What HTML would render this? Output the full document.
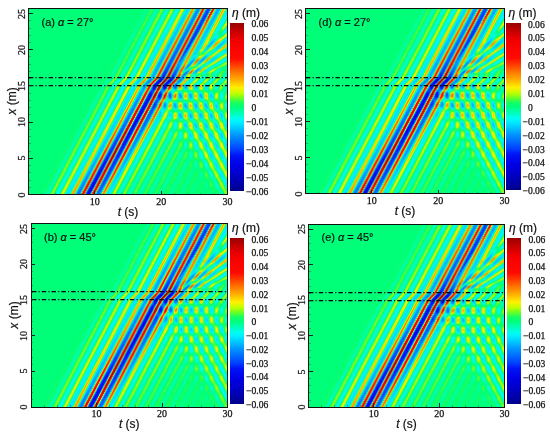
<!DOCTYPE html>
<html><head><meta charset="utf-8"><style>
html,body{margin:0;padding:0;background:#fff;}
body{width:550px;height:435px;position:relative;overflow:hidden;}
.a{position:absolute;}
.box{position:absolute;box-sizing:border-box;border:1px solid #111;background:#00ff78 linear-gradient(124deg,#00ff78 0%,#00ff78 47%,#c0ff00 49%,#00f0ff 51%,#ffd000 53%,#0060ff 54.5%,#ff2000 56%,#0000c8 57.5%,#ff2000 59%,#0040ff 60.5%,#ff9000 62%,#00e8ff 64%,#d0ff00 66%,#00ffb0 68%,#00ff78 71%,#00ff78 100%);}
.box canvas{position:absolute;left:0;top:0;width:100%;height:100%;}
.fr{position:absolute;box-sizing:border-box;border:1px solid #151515;}
.tk{position:absolute;background:#222;}
.tm{position:absolute;background:#333;opacity:0.35;}
.ser{font-family:"Liberation Serif","Times New Roman",serif;color:#111;-webkit-text-stroke:0.25px #111;white-space:nowrap;line-height:1;}
.san{font-family:"Liberation Sans",Arial,sans-serif;color:#111;-webkit-text-stroke:0.2px #111;white-space:nowrap;line-height:1;}
.yl{position:absolute;font-size:10px;transform:translate(-50%,-50%) rotate(-90deg);}
.xl{position:absolute;font-size:10px;transform:translateX(-50%);}
.cbl{position:absolute;font-size:9.6px;}
.cbl .m{position:absolute;right:100%;}
.dd{position:absolute;height:0;border-top:1px dashed #000;}
.cb{position:absolute;}
</style></head><body>

<div class="box" style="left:28px;top:8px;width:200px;height:187px"><canvas id="ca" width="200" height="187"></canvas></div>
<svg class="a" style="left:29px;top:84px" width="198" height="3"><line x1="0" y1="1.5" x2="198" y2="1.5" stroke="#000" stroke-width="1.25" stroke-dasharray="4.4,2.2,1.1,2.1"/></svg>
<svg class="a" style="left:29px;top:76px" width="198" height="3"><line x1="0" y1="1.5" x2="198" y2="1.5" stroke="#000" stroke-width="1.25" stroke-dasharray="4.4,2.2,1.1,2.1"/></svg>
<div class="tm" style="left:41.27px;top:192.5px;width:1px;height:2px"></div>
<div class="tm" style="left:54.53px;top:192.5px;width:1px;height:2px"></div>
<div class="tm" style="left:67.8px;top:192.5px;width:1px;height:2px"></div>
<div class="tm" style="left:81.07px;top:192.5px;width:1px;height:2px"></div>
<div class="tk" style="left:94.33px;top:190.5px;width:1px;height:4px"></div>
<div class="tm" style="left:107.6px;top:192.5px;width:1px;height:2px"></div>
<div class="tm" style="left:120.87px;top:192.5px;width:1px;height:2px"></div>
<div class="tm" style="left:134.13px;top:192.5px;width:1px;height:2px"></div>
<div class="tm" style="left:147.4px;top:192.5px;width:1px;height:2px"></div>
<div class="tk" style="left:160.67px;top:190.5px;width:1px;height:4px"></div>
<div class="tm" style="left:173.93px;top:192.5px;width:1px;height:2px"></div>
<div class="tm" style="left:187.2px;top:192.5px;width:1px;height:2px"></div>
<div class="tm" style="left:200.47px;top:192.5px;width:1px;height:2px"></div>
<div class="tm" style="left:213.73px;top:192.5px;width:1px;height:2px"></div>
<div class="tm" style="left:28.5px;top:186.76px;width:2px;height:1px"></div>
<div class="tm" style="left:28.5px;top:179.53px;width:2px;height:1px"></div>
<div class="tm" style="left:28.5px;top:172.29px;width:2px;height:1px"></div>
<div class="tm" style="left:28.5px;top:165.05px;width:2px;height:1px"></div>
<div class="tk" style="left:28.5px;top:157.81px;width:4px;height:1px"></div>
<div class="tm" style="left:28.5px;top:150.58px;width:2px;height:1px"></div>
<div class="tm" style="left:28.5px;top:143.34px;width:2px;height:1px"></div>
<div class="tm" style="left:28.5px;top:136.1px;width:2px;height:1px"></div>
<div class="tm" style="left:28.5px;top:128.86px;width:2px;height:1px"></div>
<div class="tk" style="left:28.5px;top:121.63px;width:4px;height:1px"></div>
<div class="tm" style="left:28.5px;top:114.39px;width:2px;height:1px"></div>
<div class="tm" style="left:28.5px;top:107.15px;width:2px;height:1px"></div>
<div class="tm" style="left:28.5px;top:99.91px;width:2px;height:1px"></div>
<div class="tm" style="left:28.5px;top:92.68px;width:2px;height:1px"></div>
<div class="tk" style="left:28.5px;top:85.44px;width:4px;height:1px"></div>
<div class="tm" style="left:28.5px;top:78.2px;width:2px;height:1px"></div>
<div class="tm" style="left:28.5px;top:70.96px;width:2px;height:1px"></div>
<div class="tm" style="left:28.5px;top:63.73px;width:2px;height:1px"></div>
<div class="tm" style="left:28.5px;top:56.49px;width:2px;height:1px"></div>
<div class="tk" style="left:28.5px;top:49.25px;width:4px;height:1px"></div>
<div class="tm" style="left:28.5px;top:42.02px;width:2px;height:1px"></div>
<div class="tm" style="left:28.5px;top:34.78px;width:2px;height:1px"></div>
<div class="tm" style="left:28.5px;top:27.54px;width:2px;height:1px"></div>
<div class="tm" style="left:28.5px;top:20.3px;width:2px;height:1px"></div>
<div class="tk" style="left:28.5px;top:13.07px;width:4px;height:1px"></div>
<div class="xl ser" style="left:94.83px;top:196.5px">10</div>
<div class="xl ser" style="left:161.17px;top:196.5px">20</div>
<div class="xl ser" style="left:227.5px;top:196.5px">30</div>
<div class="yl ser" style="left:21.5px;top:194.5px">0</div>
<div class="yl ser" style="left:21.5px;top:158.31px">5</div>
<div class="yl ser" style="left:21.5px;top:122.13px">10</div>
<div class="yl ser" style="left:21.5px;top:85.94px">15</div>
<div class="yl ser" style="left:21.5px;top:49.75px">20</div>
<div class="yl ser" style="left:21.5px;top:13.57px">25</div>
<div class="a san" style="left:128px;top:205.5px;font-size:12px;transform:translateX(-50%)"><i>t</i> (s)</div>
<div class="a san" style="left:11.8px;top:101.3px;font-size:12px;transform:translate(-50%,-50%) rotate(-90deg)"><i>x</i> (m)</div>
<div class="a san" style="left:41.5px;top:16.5px;font-size:11px">(a) <i>α</i> = 27°</div>
<div class="cb" style="left:230px;top:23.2px;width:14.2px;height:167.6px;background:linear-gradient(to bottom,rgb(150,0,0) 0.00%,rgb(200,0,0) 5.00%,rgb(245,0,0) 11.00%,rgb(255,10,0) 21.00%,rgb(255,60,0) 25.00%,rgb(255,120,0) 29.50%,rgb(255,175,0) 34.00%,rgb(255,240,0) 38.50%,rgb(190,255,0) 42.00%,rgb(100,255,40) 45.00%,rgb(25,255,95) 47.50%,rgb(0,255,120) 50.00%,rgb(0,255,158) 52.25%,rgb(0,252,195) 54.50%,rgb(0,255,235) 56.50%,rgb(0,240,255) 58.90%,rgb(0,200,255) 62.50%,rgb(0,150,255) 66.65%,rgb(0,110,255) 70.85%,rgb(0,60,255) 75.65%,rgb(0,20,245) 78.60%,rgb(0,0,230) 84.50%,rgb(0,0,200) 90.50%,rgb(0,0,165) 96.50%,rgb(0,0,135) 100.00%)"></div>
<div class="a san" style="left:232px;top:6.8px;font-size:12px"><i>η</i> (m)</div>
<div class="cbl ser" style="left:251.5px;top:19.4px">0.06</div>
<div class="cbl ser" style="left:251.5px;top:33.37px">0.05</div>
<div class="cbl ser" style="left:251.5px;top:47.33px">0.04</div>
<div class="cbl ser" style="left:251.5px;top:61.3px">0.03</div>
<div class="cbl ser" style="left:251.5px;top:75.27px">0.02</div>
<div class="cbl ser" style="left:251.5px;top:89.23px">0.01</div>
<div class="cbl ser" style="left:251.5px;top:103.2px">0</div>
<div class="cbl ser" style="left:251.5px;top:117.17px"><span class="m">−</span>0.01</div>
<div class="cbl ser" style="left:251.5px;top:131.13px"><span class="m">−</span>0.02</div>
<div class="cbl ser" style="left:251.5px;top:145.1px"><span class="m">−</span>0.03</div>
<div class="cbl ser" style="left:251.5px;top:159.07px"><span class="m">−</span>0.04</div>
<div class="cbl ser" style="left:251.5px;top:173.03px"><span class="m">−</span>0.05</div>
<div class="cbl ser" style="left:251.5px;top:187px"><span class="m">−</span>0.06</div>
<div class="box" style="left:305px;top:8px;width:200px;height:186px"><canvas id="cd" width="200" height="186"></canvas></div>
<svg class="a" style="left:306px;top:84px" width="198" height="3"><line x1="0" y1="1.5" x2="198" y2="1.5" stroke="#000" stroke-width="1.25" stroke-dasharray="4.4,2.2,1.1,2.1"/></svg>
<svg class="a" style="left:306px;top:76px" width="198" height="3"><line x1="0" y1="1.5" x2="198" y2="1.5" stroke="#000" stroke-width="1.25" stroke-dasharray="4.4,2.2,1.1,2.1"/></svg>
<div class="tm" style="left:318.27px;top:191.5px;width:1px;height:2px"></div>
<div class="tm" style="left:331.53px;top:191.5px;width:1px;height:2px"></div>
<div class="tm" style="left:344.8px;top:191.5px;width:1px;height:2px"></div>
<div class="tm" style="left:358.07px;top:191.5px;width:1px;height:2px"></div>
<div class="tk" style="left:371.33px;top:189.5px;width:1px;height:4px"></div>
<div class="tm" style="left:384.6px;top:191.5px;width:1px;height:2px"></div>
<div class="tm" style="left:397.87px;top:191.5px;width:1px;height:2px"></div>
<div class="tm" style="left:411.13px;top:191.5px;width:1px;height:2px"></div>
<div class="tm" style="left:424.4px;top:191.5px;width:1px;height:2px"></div>
<div class="tk" style="left:437.67px;top:189.5px;width:1px;height:4px"></div>
<div class="tm" style="left:450.93px;top:191.5px;width:1px;height:2px"></div>
<div class="tm" style="left:464.2px;top:191.5px;width:1px;height:2px"></div>
<div class="tm" style="left:477.47px;top:191.5px;width:1px;height:2px"></div>
<div class="tm" style="left:490.73px;top:191.5px;width:1px;height:2px"></div>
<div class="tm" style="left:305.5px;top:185.8px;width:2px;height:1px"></div>
<div class="tm" style="left:305.5px;top:178.6px;width:2px;height:1px"></div>
<div class="tm" style="left:305.5px;top:171.4px;width:2px;height:1px"></div>
<div class="tm" style="left:305.5px;top:164.21px;width:2px;height:1px"></div>
<div class="tk" style="left:305.5px;top:157.01px;width:4px;height:1px"></div>
<div class="tm" style="left:305.5px;top:149.81px;width:2px;height:1px"></div>
<div class="tm" style="left:305.5px;top:142.61px;width:2px;height:1px"></div>
<div class="tm" style="left:305.5px;top:135.41px;width:2px;height:1px"></div>
<div class="tm" style="left:305.5px;top:128.21px;width:2px;height:1px"></div>
<div class="tk" style="left:305.5px;top:121.02px;width:4px;height:1px"></div>
<div class="tm" style="left:305.5px;top:113.82px;width:2px;height:1px"></div>
<div class="tm" style="left:305.5px;top:106.62px;width:2px;height:1px"></div>
<div class="tm" style="left:305.5px;top:99.42px;width:2px;height:1px"></div>
<div class="tm" style="left:305.5px;top:92.22px;width:2px;height:1px"></div>
<div class="tk" style="left:305.5px;top:85.02px;width:4px;height:1px"></div>
<div class="tm" style="left:305.5px;top:77.82px;width:2px;height:1px"></div>
<div class="tm" style="left:305.5px;top:70.63px;width:2px;height:1px"></div>
<div class="tm" style="left:305.5px;top:63.43px;width:2px;height:1px"></div>
<div class="tm" style="left:305.5px;top:56.23px;width:2px;height:1px"></div>
<div class="tk" style="left:305.5px;top:49.03px;width:4px;height:1px"></div>
<div class="tm" style="left:305.5px;top:41.83px;width:2px;height:1px"></div>
<div class="tm" style="left:305.5px;top:34.63px;width:2px;height:1px"></div>
<div class="tm" style="left:305.5px;top:27.44px;width:2px;height:1px"></div>
<div class="tm" style="left:305.5px;top:20.24px;width:2px;height:1px"></div>
<div class="tk" style="left:305.5px;top:13.04px;width:4px;height:1px"></div>
<div class="xl ser" style="left:371.83px;top:195.5px">10</div>
<div class="xl ser" style="left:438.17px;top:195.5px">20</div>
<div class="xl ser" style="left:504.5px;top:195.5px">30</div>
<div class="yl ser" style="left:298.5px;top:193.5px">0</div>
<div class="yl ser" style="left:298.5px;top:157.51px">5</div>
<div class="yl ser" style="left:298.5px;top:121.52px">10</div>
<div class="yl ser" style="left:298.5px;top:85.52px">15</div>
<div class="yl ser" style="left:298.5px;top:49.53px">20</div>
<div class="yl ser" style="left:298.5px;top:13.54px">25</div>
<div class="a san" style="left:405px;top:204.5px;font-size:12px;transform:translateX(-50%)"><i>t</i> (s)</div>
<div class="a san" style="left:288.8px;top:100.8px;font-size:12px;transform:translate(-50%,-50%) rotate(-90deg)"><i>x</i> (m)</div>
<div class="a san" style="left:318.5px;top:16.5px;font-size:11px">(d) <i>α</i> = 27°</div>
<div class="cb" style="left:506.4px;top:23.4px;width:14.6px;height:166.6px;background:linear-gradient(to bottom,rgb(150,0,0) 0.00%,rgb(200,0,0) 5.00%,rgb(245,0,0) 11.00%,rgb(255,10,0) 21.00%,rgb(255,60,0) 25.00%,rgb(255,120,0) 29.50%,rgb(255,175,0) 34.00%,rgb(255,240,0) 38.50%,rgb(190,255,0) 42.00%,rgb(100,255,40) 45.00%,rgb(25,255,95) 47.50%,rgb(0,255,120) 50.00%,rgb(0,255,158) 52.25%,rgb(0,252,195) 54.50%,rgb(0,255,235) 56.50%,rgb(0,240,255) 58.90%,rgb(0,200,255) 62.50%,rgb(0,150,255) 66.65%,rgb(0,110,255) 70.85%,rgb(0,60,255) 75.65%,rgb(0,20,245) 78.60%,rgb(0,0,230) 84.50%,rgb(0,0,200) 90.50%,rgb(0,0,165) 96.50%,rgb(0,0,135) 100.00%)"></div>
<div class="a san" style="left:508.4px;top:7px;font-size:12px"><i>η</i> (m)</div>
<div class="cbl ser" style="left:527.9px;top:19.6px">0.06</div>
<div class="cbl ser" style="left:527.9px;top:33.48px">0.05</div>
<div class="cbl ser" style="left:527.9px;top:47.37px">0.04</div>
<div class="cbl ser" style="left:527.9px;top:61.25px">0.03</div>
<div class="cbl ser" style="left:527.9px;top:75.13px">0.02</div>
<div class="cbl ser" style="left:527.9px;top:89.02px">0.01</div>
<div class="cbl ser" style="left:527.9px;top:102.9px">0</div>
<div class="cbl ser" style="left:527.9px;top:116.78px"><span class="m">−</span>0.01</div>
<div class="cbl ser" style="left:527.9px;top:130.67px"><span class="m">−</span>0.02</div>
<div class="cbl ser" style="left:527.9px;top:144.55px"><span class="m">−</span>0.03</div>
<div class="cbl ser" style="left:527.9px;top:158.43px"><span class="m">−</span>0.04</div>
<div class="cbl ser" style="left:527.9px;top:172.32px"><span class="m">−</span>0.05</div>
<div class="cbl ser" style="left:527.9px;top:186.2px"><span class="m">−</span>0.06</div>
<div class="box" style="left:30.5px;top:223px;width:197.5px;height:184.5px"><canvas id="cb" width="198" height="184"></canvas></div>
<svg class="a" style="left:31.5px;top:298px" width="195.5" height="3"><line x1="0" y1="1.5" x2="195.5" y2="1.5" stroke="#000" stroke-width="1.25" stroke-dasharray="4.4,2.2,1.1,2.1"/></svg>
<svg class="a" style="left:31.5px;top:290px" width="195.5" height="3"><line x1="0" y1="1.5" x2="195.5" y2="1.5" stroke="#000" stroke-width="1.25" stroke-dasharray="4.4,2.2,1.1,2.1"/></svg>
<div class="tm" style="left:43.6px;top:405px;width:1px;height:2px"></div>
<div class="tm" style="left:56.7px;top:405px;width:1px;height:2px"></div>
<div class="tm" style="left:69.8px;top:405px;width:1px;height:2px"></div>
<div class="tm" style="left:82.9px;top:405px;width:1px;height:2px"></div>
<div class="tk" style="left:96px;top:403px;width:1px;height:4px"></div>
<div class="tm" style="left:109.1px;top:405px;width:1px;height:2px"></div>
<div class="tm" style="left:122.2px;top:405px;width:1px;height:2px"></div>
<div class="tm" style="left:135.3px;top:405px;width:1px;height:2px"></div>
<div class="tm" style="left:148.4px;top:405px;width:1px;height:2px"></div>
<div class="tk" style="left:161.5px;top:403px;width:1px;height:4px"></div>
<div class="tm" style="left:174.6px;top:405px;width:1px;height:2px"></div>
<div class="tm" style="left:187.7px;top:405px;width:1px;height:2px"></div>
<div class="tm" style="left:200.8px;top:405px;width:1px;height:2px"></div>
<div class="tm" style="left:213.9px;top:405px;width:1px;height:2px"></div>
<div class="tm" style="left:31px;top:399.36px;width:2px;height:1px"></div>
<div class="tm" style="left:31px;top:392.22px;width:2px;height:1px"></div>
<div class="tm" style="left:31px;top:385.08px;width:2px;height:1px"></div>
<div class="tm" style="left:31px;top:377.94px;width:2px;height:1px"></div>
<div class="tk" style="left:31px;top:370.8px;width:4px;height:1px"></div>
<div class="tm" style="left:31px;top:363.66px;width:2px;height:1px"></div>
<div class="tm" style="left:31px;top:356.52px;width:2px;height:1px"></div>
<div class="tm" style="left:31px;top:349.38px;width:2px;height:1px"></div>
<div class="tm" style="left:31px;top:342.24px;width:2px;height:1px"></div>
<div class="tk" style="left:31px;top:335.1px;width:4px;height:1px"></div>
<div class="tm" style="left:31px;top:327.96px;width:2px;height:1px"></div>
<div class="tm" style="left:31px;top:320.82px;width:2px;height:1px"></div>
<div class="tm" style="left:31px;top:313.68px;width:2px;height:1px"></div>
<div class="tm" style="left:31px;top:306.54px;width:2px;height:1px"></div>
<div class="tk" style="left:31px;top:299.4px;width:4px;height:1px"></div>
<div class="tm" style="left:31px;top:292.26px;width:2px;height:1px"></div>
<div class="tm" style="left:31px;top:285.12px;width:2px;height:1px"></div>
<div class="tm" style="left:31px;top:277.98px;width:2px;height:1px"></div>
<div class="tm" style="left:31px;top:270.84px;width:2px;height:1px"></div>
<div class="tk" style="left:31px;top:263.7px;width:4px;height:1px"></div>
<div class="tm" style="left:31px;top:256.56px;width:2px;height:1px"></div>
<div class="tm" style="left:31px;top:249.42px;width:2px;height:1px"></div>
<div class="tm" style="left:31px;top:242.28px;width:2px;height:1px"></div>
<div class="tm" style="left:31px;top:235.14px;width:2px;height:1px"></div>
<div class="tk" style="left:31px;top:228px;width:4px;height:1px"></div>
<div class="xl ser" style="left:96.5px;top:409px">10</div>
<div class="xl ser" style="left:162px;top:409px">20</div>
<div class="xl ser" style="left:227.5px;top:409px">30</div>
<div class="yl ser" style="left:24px;top:407px">0</div>
<div class="yl ser" style="left:24px;top:371.3px">5</div>
<div class="yl ser" style="left:24px;top:335.6px">10</div>
<div class="yl ser" style="left:24px;top:299.9px">15</div>
<div class="yl ser" style="left:24px;top:264.2px">20</div>
<div class="yl ser" style="left:24px;top:228.5px">25</div>
<div class="a san" style="left:129.25px;top:418px;font-size:12px;transform:translateX(-50%)"><i>t</i> (s)</div>
<div class="a san" style="left:14.3px;top:315.05px;font-size:12px;transform:translate(-50%,-50%) rotate(-90deg)"><i>x</i> (m)</div>
<div class="a san" style="left:44px;top:231.5px;font-size:11px">(b) <i>α</i> = 45°</div>
<div class="cb" style="left:230px;top:238.4px;width:14px;height:165.4px;background:linear-gradient(to bottom,rgb(150,0,0) 0.00%,rgb(200,0,0) 5.00%,rgb(245,0,0) 11.00%,rgb(255,10,0) 21.00%,rgb(255,60,0) 25.00%,rgb(255,120,0) 29.50%,rgb(255,175,0) 34.00%,rgb(255,240,0) 38.50%,rgb(190,255,0) 42.00%,rgb(100,255,40) 45.00%,rgb(25,255,95) 47.50%,rgb(0,255,120) 50.00%,rgb(0,255,158) 52.25%,rgb(0,252,195) 54.50%,rgb(0,255,235) 56.50%,rgb(0,240,255) 58.90%,rgb(0,200,255) 62.50%,rgb(0,150,255) 66.65%,rgb(0,110,255) 70.85%,rgb(0,60,255) 75.65%,rgb(0,20,245) 78.60%,rgb(0,0,230) 84.50%,rgb(0,0,200) 90.50%,rgb(0,0,165) 96.50%,rgb(0,0,135) 100.00%)"></div>
<div class="a san" style="left:232px;top:222px;font-size:12px"><i>η</i> (m)</div>
<div class="cbl ser" style="left:251.5px;top:234.6px">0.06</div>
<div class="cbl ser" style="left:251.5px;top:248.38px">0.05</div>
<div class="cbl ser" style="left:251.5px;top:262.17px">0.04</div>
<div class="cbl ser" style="left:251.5px;top:275.95px">0.03</div>
<div class="cbl ser" style="left:251.5px;top:289.73px">0.02</div>
<div class="cbl ser" style="left:251.5px;top:303.52px">0.01</div>
<div class="cbl ser" style="left:251.5px;top:317.3px">0</div>
<div class="cbl ser" style="left:251.5px;top:331.08px"><span class="m">−</span>0.01</div>
<div class="cbl ser" style="left:251.5px;top:344.87px"><span class="m">−</span>0.02</div>
<div class="cbl ser" style="left:251.5px;top:358.65px"><span class="m">−</span>0.03</div>
<div class="cbl ser" style="left:251.5px;top:372.43px"><span class="m">−</span>0.04</div>
<div class="cbl ser" style="left:251.5px;top:386.22px"><span class="m">−</span>0.05</div>
<div class="cbl ser" style="left:251.5px;top:400px"><span class="m">−</span>0.06</div>
<div class="box" style="left:308px;top:223.7px;width:197px;height:184px"><canvas id="ce" width="197" height="184"></canvas></div>
<svg class="a" style="left:309px;top:299px" width="195" height="3"><line x1="0" y1="1.5" x2="195" y2="1.5" stroke="#000" stroke-width="1.25" stroke-dasharray="4.4,2.2,1.1,2.1"/></svg>
<svg class="a" style="left:309px;top:291px" width="195" height="3"><line x1="0" y1="1.5" x2="195" y2="1.5" stroke="#000" stroke-width="1.25" stroke-dasharray="4.4,2.2,1.1,2.1"/></svg>
<div class="tm" style="left:321.07px;top:405.2px;width:1px;height:2px"></div>
<div class="tm" style="left:334.13px;top:405.2px;width:1px;height:2px"></div>
<div class="tm" style="left:347.2px;top:405.2px;width:1px;height:2px"></div>
<div class="tm" style="left:360.27px;top:405.2px;width:1px;height:2px"></div>
<div class="tk" style="left:373.33px;top:403.2px;width:1px;height:4px"></div>
<div class="tm" style="left:386.4px;top:405.2px;width:1px;height:2px"></div>
<div class="tm" style="left:399.47px;top:405.2px;width:1px;height:2px"></div>
<div class="tm" style="left:412.53px;top:405.2px;width:1px;height:2px"></div>
<div class="tm" style="left:425.6px;top:405.2px;width:1px;height:2px"></div>
<div class="tk" style="left:438.67px;top:403.2px;width:1px;height:4px"></div>
<div class="tm" style="left:451.73px;top:405.2px;width:1px;height:2px"></div>
<div class="tm" style="left:464.8px;top:405.2px;width:1px;height:2px"></div>
<div class="tm" style="left:477.87px;top:405.2px;width:1px;height:2px"></div>
<div class="tm" style="left:490.93px;top:405.2px;width:1px;height:2px"></div>
<div class="tm" style="left:308.5px;top:399.58px;width:2px;height:1px"></div>
<div class="tm" style="left:308.5px;top:392.46px;width:2px;height:1px"></div>
<div class="tm" style="left:308.5px;top:385.34px;width:2px;height:1px"></div>
<div class="tm" style="left:308.5px;top:378.22px;width:2px;height:1px"></div>
<div class="tk" style="left:308.5px;top:371.1px;width:4px;height:1px"></div>
<div class="tm" style="left:308.5px;top:363.98px;width:2px;height:1px"></div>
<div class="tm" style="left:308.5px;top:356.86px;width:2px;height:1px"></div>
<div class="tm" style="left:308.5px;top:349.74px;width:2px;height:1px"></div>
<div class="tm" style="left:308.5px;top:342.61px;width:2px;height:1px"></div>
<div class="tk" style="left:308.5px;top:335.49px;width:4px;height:1px"></div>
<div class="tm" style="left:308.5px;top:328.37px;width:2px;height:1px"></div>
<div class="tm" style="left:308.5px;top:321.25px;width:2px;height:1px"></div>
<div class="tm" style="left:308.5px;top:314.13px;width:2px;height:1px"></div>
<div class="tm" style="left:308.5px;top:307.01px;width:2px;height:1px"></div>
<div class="tk" style="left:308.5px;top:299.89px;width:4px;height:1px"></div>
<div class="tm" style="left:308.5px;top:292.77px;width:2px;height:1px"></div>
<div class="tm" style="left:308.5px;top:285.65px;width:2px;height:1px"></div>
<div class="tm" style="left:308.5px;top:278.53px;width:2px;height:1px"></div>
<div class="tm" style="left:308.5px;top:271.41px;width:2px;height:1px"></div>
<div class="tk" style="left:308.5px;top:264.29px;width:4px;height:1px"></div>
<div class="tm" style="left:308.5px;top:257.17px;width:2px;height:1px"></div>
<div class="tm" style="left:308.5px;top:250.05px;width:2px;height:1px"></div>
<div class="tm" style="left:308.5px;top:242.93px;width:2px;height:1px"></div>
<div class="tm" style="left:308.5px;top:235.81px;width:2px;height:1px"></div>
<div class="tk" style="left:308.5px;top:228.68px;width:4px;height:1px"></div>
<div class="xl ser" style="left:373.83px;top:409.2px">10</div>
<div class="xl ser" style="left:439.17px;top:409.2px">20</div>
<div class="xl ser" style="left:504.5px;top:409.2px">30</div>
<div class="yl ser" style="left:301.5px;top:407.2px">0</div>
<div class="yl ser" style="left:301.5px;top:371.6px">5</div>
<div class="yl ser" style="left:301.5px;top:335.99px">10</div>
<div class="yl ser" style="left:301.5px;top:300.39px">15</div>
<div class="yl ser" style="left:301.5px;top:264.79px">20</div>
<div class="yl ser" style="left:301.5px;top:229.18px">25</div>
<div class="a san" style="left:406.5px;top:418.2px;font-size:12px;transform:translateX(-50%)"><i>t</i> (s)</div>
<div class="a san" style="left:291.8px;top:315.5px;font-size:12px;transform:translate(-50%,-50%) rotate(-90deg)"><i>x</i> (m)</div>
<div class="a san" style="left:321.5px;top:232.2px;font-size:11px">(e) <i>α</i> = 45°</div>
<div class="cb" style="left:507px;top:238.3px;width:14.2px;height:165.7px;background:linear-gradient(to bottom,rgb(150,0,0) 0.00%,rgb(200,0,0) 5.00%,rgb(245,0,0) 11.00%,rgb(255,10,0) 21.00%,rgb(255,60,0) 25.00%,rgb(255,120,0) 29.50%,rgb(255,175,0) 34.00%,rgb(255,240,0) 38.50%,rgb(190,255,0) 42.00%,rgb(100,255,40) 45.00%,rgb(25,255,95) 47.50%,rgb(0,255,120) 50.00%,rgb(0,255,158) 52.25%,rgb(0,252,195) 54.50%,rgb(0,255,235) 56.50%,rgb(0,240,255) 58.90%,rgb(0,200,255) 62.50%,rgb(0,150,255) 66.65%,rgb(0,110,255) 70.85%,rgb(0,60,255) 75.65%,rgb(0,20,245) 78.60%,rgb(0,0,230) 84.50%,rgb(0,0,200) 90.50%,rgb(0,0,165) 96.50%,rgb(0,0,135) 100.00%)"></div>
<div class="a san" style="left:509px;top:221.9px;font-size:12px"><i>η</i> (m)</div>
<div class="cbl ser" style="left:528.5px;top:234.5px">0.06</div>
<div class="cbl ser" style="left:528.5px;top:248.31px">0.05</div>
<div class="cbl ser" style="left:528.5px;top:262.12px">0.04</div>
<div class="cbl ser" style="left:528.5px;top:275.93px">0.03</div>
<div class="cbl ser" style="left:528.5px;top:289.73px">0.02</div>
<div class="cbl ser" style="left:528.5px;top:303.54px">0.01</div>
<div class="cbl ser" style="left:528.5px;top:317.35px">0</div>
<div class="cbl ser" style="left:528.5px;top:331.16px"><span class="m">−</span>0.01</div>
<div class="cbl ser" style="left:528.5px;top:344.97px"><span class="m">−</span>0.02</div>
<div class="cbl ser" style="left:528.5px;top:358.77px"><span class="m">−</span>0.03</div>
<div class="cbl ser" style="left:528.5px;top:372.58px"><span class="m">−</span>0.04</div>
<div class="cbl ser" style="left:528.5px;top:386.39px"><span class="m">−</span>0.05</div>
<div class="cbl ser" style="left:528.5px;top:400.2px"><span class="m">−</span>0.06</div>
<script>
(function(){
var XMAX=25.7, TMAX=30;
var CM=[[-1,0,0,135],[-0.93,0,0,165],[-0.81,0,0,200],[-0.69,0,0,230],[-0.572,0,20,245],[-0.513,0,60,255],[-0.417,0,110,255],[-0.333,0,150,255],[-0.25,0,200,255],[-0.178,0,240,255],[-0.13,0,255,235],[-0.09,0,252,195],[-0.045,0,255,158],[0,0,255,120],[0.05,25,255,95],[0.1,100,255,40],[0.16,190,255,0],[0.23,255,240,0],[0.32,255,175,0],[0.41,255,120,0],[0.5,255,60,0],[0.58,255,10,0],[0.78,245,0,0],[0.9,200,0,0],[1,150,0,0]];
function cmap(v){
  if(v<=-1) return CM[0];
  if(v>=1) return CM[CM.length-1];
  for(var i=1;i<CM.length;i++){ if(v<=CM[i][0]){ var a=CM[i-1],b=CM[i],u=(v-a[0])/(b[0]-a[0]); return [0,a[1]+(b[1]-a[1])*u,a[2]+(b[2]-a[2])*u,a[3]+(b[3]-a[3])*u]; } }
}
var PER=1.57, W=2*Math.PI/PER, C=1.76, T0=8.18, TC0=9.2, SG=0.72, XR=15.0, XT=16.16;
function env(tau,x,P){ return env2(tau,x,P,P.sig); }
function env2(tau, x, P, sig){
  var sg2 = tau<0 ? sig*P.sf : sig;
  var core = P.a0*Math.exp(-tau*tau/(2*sg2*sg2));
  var tail;
  if(tau<0){ var wf=7.5+0.142*x; var s=-tau/wf; tail = s<1 ? P.tf*Math.pow(1-s,P.fp) : 0; }
  else { tail = P.tb*Math.exp(-tau/(P.bd+P.bx*Math.min(x,16))); }
  return core + tail;
}
function field(t,x,P){
  var eta=0;
  var u = x<=XR ? 0 : (x>=XT ? 1 : (x-XR)/(XT-XR));
  var S = x/C + u*(XT-XR)*(1/P.cobs-1/C) + (x>XT ? P.ph : 0);
  var v2 = x>XT ? Math.min(1,(x-XT)/2) : 0;
  var dly = P.dly*u;
  var amp = (1+(P.oamp-1)*(u>0&&u<1?Math.sin(Math.PI*u):0)) * (1-(1-P.tamp)*v2);
  var tc = TC0 + SG*x + dly;
  var tau = t - tc;
  var sg = P.sig*(1+(P.tsig-1)*v2);
  var A = amp*env2(tau,x,P,sg);
  if(tau>0 && v2>0){ var cb=P.a0*Math.exp(-tau*tau/(2*sg*sg)); A = amp*cb + (A-amp*cb)*(1-(1-P.tbt)*v2); A *= 1-P.bcut*v2*Math.min(1,tau/1.5); }
  var th1 = W*(t - S - T0);
  eta += A*Math.cos(th1) + A*(P.b2a+P.b2*A/0.05)*Math.cos(2*th1) - (A*A/0.05)*P.sd;
  // reflection
  if(x<XR+0.6){
    var xm = 2*P.xr - x;
    var tauR = t - (P.tr0 + SG*(XR - x));
    var ER = tauR< -P.rw ? Math.exp(-Math.pow((tauR+P.rw)/P.rf,2)) : (tauR>P.rw ? Math.exp(-Math.pow((tauR-P.rw)/P.rb,2)) : 1);
    var fade = x<XR ? 1 : Math.max(0,1-(x-XR)/0.6);
    eta += fade*P.R*ER*Math.cos(W*(t - xm/C - T0) + P.psi);
  }
  // fan of short waves released above the obstacle
  if(x>P.fx && t>P.ft){
    var dy=(x-P.fx)*7.232, dx=(t-P.ft)*6.633;
    var th=Math.atan2(dy,dx)*57.2958, r=Math.sqrt(dx*dx+dy*dy);
    if(th>P.th0 && th<P.th1){
      var uu=(th-P.th0)/(P.th1-P.th0);
      var wv = Math.pow(Math.sin(Math.PI*uu),0.5)*(0.35+0.65*uu);
      var rr = Math.min(1, r/6)*Math.min(1,Math.max(0,(x-P.fx0)/0.8));
      var cf=Math.cos(2*Math.PI*(th-P.th0)/P.tp); eta += P.fa*wv*rr*((cf>0?Math.pow(cf,1.5):0.5*cf) - P.fo);
    }
  }
  return eta;
}
function draw(id,P){
  var cv=document.getElementById('c'+id); if(!cv) return;
  var w=cv.width,h=cv.height,ctx=cv.getContext('2d');
  var im=ctx.createImageData(w,h), d=im.data;
  for(var j=0;j<h;j++){
    var x = XMAX*(h-1-j)/(h-1);
    for(var i=0;i<w;i++){
      var t = TMAX*i/(w-1);
      var e = field(t,x,P); if(e>0.03) e = 0.03+(e-0.03)*P.cc; var v = e/0.06;
      var c=cmap(v); var k=4*(j*w+i);
      d[k]=c[1]; d[k+1]=c[2]; d[k+2]=c[3]; d[k+3]=255;
    }
  }
  ctx.putImageData(im,0,0);
}
var P0={a0:0.031,sig:1.5,sf:0.9,tf:0.021,fp:0.75,tb:0.014,bd:6.5,bx:0.35,R:0.012,psi:1.0,xr:16.6,tr0:23.0,rw:2.2,rf:2.6,rb:3.0,dly:0.4,ph:0.0,tamp:0.8,cobs:1.0,oamp:1.25,tsig:1.6,fx:12.0,ft:17.5,fx0:16.16,th0:24,th1:46,tp:4.4,fa:0.03,cc:1.0,b2:0.12,b2a:0.16,sd:0.05,tbt:0.1,bcut:0.2,fo:0.12};
var P1={}; for(var k in P0) P1[k]=P0[k]; P1.R=0.0095;
draw('a',P0); draw('d',P0); draw('b',P1); draw('e',P1);
})();

</script>
</body></html>
